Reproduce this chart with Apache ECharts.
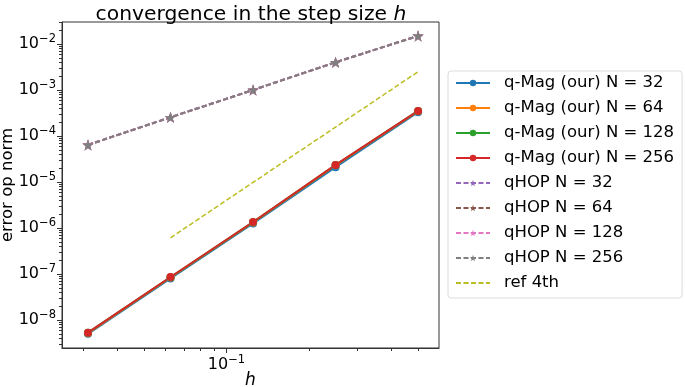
<!DOCTYPE html>
<html>
<head>
<meta charset="utf-8">
<script src="https://cdn.jsdelivr.net/npm/echarts@6/dist/echarts.min.js"></script>
<style>
  html, body { margin: 0; padding: 0; background: #fff; }
  #chart { width: 685px; height: 387px; }
</style>
</head>
<body>
<div id="chart"></div>
<script>
// step sizes h
const hValues = [0.03125, 0.0625, 0.125, 0.25, 0.5];

// q-Mag (our) errors
const qMag32 = [5.0e-9, 8.0e-8, 1.25e-6, 2.1e-5, 3.3e-4];
const qMag64 = [5.2e-9, 8.4e-8, 1.32e-6, 2.3e-5, 3.45e-4];
const qMag128 = [5.3e-9, 8.5e-8, 1.34e-6, 2.33e-5, 3.5e-4];
const qMag256 = [5.3e-9, 8.6e-8, 1.35e-6, 2.35e-5, 3.5e-4];

// qHOP errors
const qHop32 = [6.4e-5, 2.55e-4, 1.0e-3, 4.0e-3, 1.5e-2];
const qHop64 = [6.4e-5, 2.55e-4, 1.0e-3, 4.0e-3, 1.5e-2];
const qHop128 = [6.4e-5, 2.55e-4, 1.0e-3, 4.0e-3, 1.5e-2];
const qHop256 = [6.4e-5, 2.55e-4, 1.0e-3, 4.0e-3, 1.5e-2];

// reference 4th order slope
const refH = [0.0625, 0.125, 0.25, 0.5];
const ref4th = [6.1e-7, 9.8e-6, 1.56e-4, 2.5e-3];

// axis ticks
const xMajorTicks = [0.1];
const xMinorTicks = [0.03, 0.04, 0.05, 0.06, 0.07, 0.08, 0.09, 0.2, 0.3, 0.4, 0.5];
const yMajorTicks = [1e-8, 1e-7, 1e-6, 1e-5, 1e-4, 1e-3, 1e-2];
const yMinorTicks = [];
for (let e = -9; e <= -2; e++) {
  for (let m = 2; m <= 9; m++) yMinorTicks.push(m * Math.pow(10, e));
}

const xMin = 0.02512, xMax = 0.596;
const yMin = Math.pow(10, -8.609), yMax = Math.pow(10, -1.522);

// matplotlib-like star marker
function starPath() {
  let d = 'path://';
  for (let i = 0; i < 10; i++) {
    const r = i % 2 === 0 ? 1 : 0.4;
    const a = -Math.PI / 2 + i * Math.PI / 5;
    d += (i === 0 ? 'M' : 'L') + (r * Math.cos(a) + 1).toFixed(3) + ' ' + (r * Math.sin(a) + 1).toFixed(3);
  }
  return d + 'Z';
}
const STAR = starPath();

const font = 'DejaVu Sans';

function pow10Label(v) {
  const e = Math.round(Math.log10(v));
  return '{b|10}{s|' + (e < 0 ? '\u2212' + (-e) : e) + '}';
}
const powRich = {
  b: { fontFamily: font, fontSize: 16, color: '#000' },
  s: { fontFamily: font, fontSize: 11.5, color: '#000', padding: [0, 0, 10, 0] }
};

function pairs(xs, ys) {
  return xs.map((x, i) => [x, ys[i]]);
}

function magSeries(name, ys, color) {
  return {
    name: name, type: 'line', data: pairs(hValues, ys),
    symbol: 'circle', symbolSize: 8,
    lineStyle: { color: color, width: 2 },
    itemStyle: { color: color },
    animation: false
  };
}

function hopSeries(name, ys, color) {
  return {
    name: name, type: 'line', data: pairs(hValues, ys),
    symbol: STAR, symbolSize: 11,
    lineStyle: { color: color, width: 2, type: [5, 2.5] },
    itemStyle: { color: color },
    animation: false
  };
}

const chart = echarts.init(document.getElementById('chart'));

const option = {
  backgroundColor: '#ffffff',
  title: {
    text: 'convergence in the step size {i|h}',
    left: 246, top: 0, textAlign: 'center',
    textStyle: {
      fontFamily: font, fontSize: 20.3, fontWeight: 'normal', color: '#000',
      rich: { i: { fontFamily: font, fontSize: 20.3, fontStyle: 'italic', color: '#000' } }
    }
  },
  grid: {
    left: 62, right: 246, top: 22, bottom: 39,
    outerBoundsMode: 'none', containLabel: false,
    show: true, borderColor: '#333', borderWidth: 1, backgroundColor: 'transparent'
  },
  legend: {
    orient: 'vertical', left: 448, top: 71,
    itemWidth: 34, itemHeight: 8, itemGap: 7,
    padding: [3, 8, 6, 7],
    borderColor: '#dcdcdc', borderWidth: 1, borderRadius: 3,
    textStyle: { fontFamily: font, fontSize: 16.5, lineHeight: 18, color: '#000', padding: [0, 0, 0, 9] },
    data: ['q-Mag (our) N = 32', 'q-Mag (our) N = 64', 'q-Mag (our) N = 128', 'q-Mag (our) N = 256',
      'qHOP N = 32', 'qHOP N = 64', 'qHOP N = 128', 'qHOP N = 256',
      { name: 'ref 4th', itemStyle: { opacity: 0 } }]
  },
  xAxis: [{
    type: 'log', logBase: 10, min: xMin, max: xMax,
    name: 'h', nameLocation: 'middle', nameGap: 24, nameMoveOverlap: false,
    nameTextStyle: { fontFamily: font, fontSize: 17, fontStyle: 'italic', color: '#000' },
    axisLine: { show: true, lineStyle: { color: '#333' } },
    axisTick: { show: true, length: 5, customValues: xMajorTicks, lineStyle: { color: '#333' } },
    axisLabel: { customValues: xMajorTicks, formatter: pow10Label, rich: powRich, margin: 6 },
    splitLine: { show: false }
  }, {
    type: 'log', logBase: 10, min: xMin, max: xMax, position: 'bottom',
    axisLine: { show: false },
    axisTick: { show: true, length: 3, customValues: xMinorTicks, lineStyle: { color: '#333' } },
    axisLabel: { show: false },
    splitLine: { show: false }
  }],
  yAxis: [{
    type: 'log', logBase: 10, min: yMin, max: yMax,
    name: 'error op norm', nameLocation: 'middle', nameGap: 46, nameRotate: 90, nameMoveOverlap: false,
    nameTextStyle: { fontFamily: font, fontSize: 16.5, color: '#000' },
    axisLine: { show: true, lineStyle: { color: '#333' } },
    axisTick: { show: true, length: 5, customValues: yMajorTicks, lineStyle: { color: '#333' } },
    axisLabel: { customValues: yMajorTicks, formatter: pow10Label, rich: powRich, margin: 6 },
    splitLine: { show: false }
  }, {
    type: 'log', logBase: 10, min: yMin, max: yMax, position: 'left',
    axisLine: { show: false },
    axisTick: { show: true, length: 3, customValues: yMinorTicks.filter(v => v > yMin && v < yMax), lineStyle: { color: '#333' } },
    axisLabel: { show: false },
    splitLine: { show: false }
  }],
  series: [
    magSeries('q-Mag (our) N = 32', qMag32, '#1f77b4'),
    magSeries('q-Mag (our) N = 64', qMag64, '#ff7f0e'),
    magSeries('q-Mag (our) N = 128', qMag128, '#2ca02c'),
    magSeries('q-Mag (our) N = 256', qMag256, '#d62728'),
    hopSeries('qHOP N = 32', qHop32, '#9467bd'),
    hopSeries('qHOP N = 64', qHop64, '#8c564b'),
    hopSeries('qHOP N = 128', qHop128, '#e377c2'),
    hopSeries('qHOP N = 256', qHop256, '#7f7f7f'),
    {
      name: 'ref 4th', type: 'line', data: pairs(refH, ref4th),
      symbol: 'none', showSymbol: false,
      lineStyle: { color: '#bcbd22', width: 1.5, type: [5, 2.5] },
      itemStyle: { color: '#bcbd22' },
      animation: false
    }
  ]
};

chart.setOption(option);
</script>
</body>
</html>
